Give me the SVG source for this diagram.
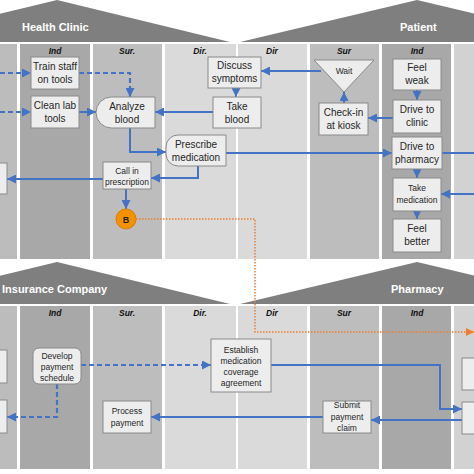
<svg xmlns="http://www.w3.org/2000/svg" width="474" height="474" viewBox="0 0 474 474">
<style>
.roof{fill:#7f7f7f}
.rt{font-family:"Liberation Sans",Arial,sans-serif;font-weight:bold;font-size:11px;fill:#fff}
.ind{fill:#a8a8a8}.sur{fill:#bdbdbd}.dir{fill:#dadada}.lft{fill:#bcbcbc}.rgt{fill:#d2d2d2}
.ch{font-family:"Liberation Sans",Arial,sans-serif;font-weight:bold;font-style:italic;font-size:8.5px;fill:#111;text-anchor:middle}
.box{fill:#ededed;stroke:#8a8a8a;stroke-width:1}
.t{font-family:"Liberation Sans",Arial,sans-serif;font-size:10px;fill:#262626;text-anchor:middle}
.s{font-family:"Liberation Sans",Arial,sans-serif;font-size:8.5px;fill:#262626;text-anchor:middle}
.c{fill:none;stroke:#4472c4;stroke-width:2}
.d{fill:none;stroke:#4472c4;stroke-width:2.2;stroke-dasharray:5,3}
.o{fill:none;stroke:#ed7d31;stroke-width:1.5;stroke-dasharray:1.5,1.5}
</style>
<defs>
<marker id="a" markerUnits="userSpaceOnUse" markerWidth="9" markerHeight="9" refX="9" refY="4.5" orient="auto"><path d="M0,0 L9,4.5 L0,9 z" fill="#4472c4"/></marker>
<marker id="ao" markerUnits="userSpaceOnUse" markerWidth="8" markerHeight="8" refX="8" refY="4" orient="auto"><path d="M0,0 L8,4 L0,8 z" fill="#ed7d31"/></marker>
</defs>
<rect width="474" height="474" fill="#fff"/>
<g id="lanes">
<polygon class="roof" points="-116,42 57,0 230,42"/>
<polygon class="roof" points="240,42 417,0 594,42"/>
<text class="rt" x="22" y="31">Health Clinic</text>
<text class="rt" x="400" y="31">Patient</text>
<rect class="lft" x="0" y="44" width="17" height="215"/>
<rect class="ind" x="20" y="44" width="70" height="215"/>
<rect class="sur" x="93" y="44" width="69" height="215"/>
<rect class="dir" x="165" y="44" width="71" height="215"/>
<rect class="dir" x="238" y="44" width="69" height="215"/>
<rect class="sur" x="310" y="44" width="69" height="215"/>
<rect class="ind" x="382" y="44" width="69" height="215"/>
<rect class="rgt" x="454" y="44" width="20" height="215"/>
<text class="ch" x="55" y="54">Ind</text>
<text class="ch" x="127" y="54">Sur.</text>
<text class="ch" x="200" y="54">Dir.</text>
<text class="ch" x="272" y="54">Dir</text>
<text class="ch" x="344" y="54">Sur</text>
<text class="ch" x="417" y="54">Ind</text>
<polygon class="roof" points="-116,304 57,262 230,304"/>
<polygon class="roof" points="240,304 417,262 594,304"/>
<text class="rt" x="2" y="293">Insurance Company</text>
<text class="rt" x="391" y="293">Pharmacy</text>
<rect class="lft" x="0" y="306" width="17" height="163"/>
<rect class="ind" x="20" y="306" width="70" height="163"/>
<rect class="sur" x="93" y="306" width="69" height="163"/>
<rect class="dir" x="165" y="306" width="71" height="163"/>
<rect class="dir" x="238" y="306" width="69" height="163"/>
<rect class="sur" x="310" y="306" width="69" height="163"/>
<rect class="ind" x="382" y="306" width="69" height="163"/>
<rect class="rgt" x="454" y="306" width="20" height="163"/>
<text class="ch" x="55" y="316">Ind</text>
<text class="ch" x="127" y="316">Sur.</text>
<text class="ch" x="200" y="316">Dir.</text>
<text class="ch" x="272" y="316">Dir</text>
<text class="ch" x="344" y="316">Sur</text>
<text class="ch" x="417" y="316">Ind</text>
</g>
<g id="connectors">
<path class="d" d="M0,73 H31" marker-end="url(#a)"/>
<path class="d" d="M79,73 H130 V97" marker-end="url(#a)"/>
<path class="d" d="M0,112 H31" marker-end="url(#a)"/>
<path class="c" d="M79,112 H96" marker-end="url(#a)"/>
<path class="c" d="M213,112 H155" marker-end="url(#a)"/>
<path class="c" d="M236,88 V97" marker-end="url(#a)"/>
<path class="c" d="M321,71 H261" marker-end="url(#a)"/>
<path class="c" d="M344,103 V92" marker-end="url(#a)"/>
<path class="c" d="M393,118 H368" marker-end="url(#a)"/>
<path class="c" d="M417,90 V100" marker-end="url(#a)"/>
<path class="c" d="M130,128 V152 H166" marker-end="url(#a)"/>
<path class="c" d="M226,153 H392" marker-end="url(#a)"/>
<path class="c" d="M442,153 H474"/>
<path class="c" d="M417,169 V178" marker-end="url(#a)"/>
<path class="c" d="M474,194 H441" marker-end="url(#a)"/>
<path class="c" d="M417,211 V219" marker-end="url(#a)"/>
<path class="c" d="M198,166 V178 H151" marker-end="url(#a)"/>
<path class="c" d="M103,179 H7" marker-end="url(#a)"/>
<path class="c" d="M126,189 V209" marker-end="url(#a)"/>
<path class="o" d="M136,219 H255 V332 H474" marker-end="url(#ao)"/>
<path class="d" d="M81,365 H211" marker-end="url(#a)"/>
<path class="d" d="M57,384 V417 H7" marker-end="url(#a)"/>
<path class="c" d="M271,365 H440 V409 H462" marker-end="url(#a)"/>
<path class="c" d="M462,420 H371" marker-end="url(#a)"/>
<path class="c" d="M323,417 H151" marker-end="url(#a)"/>
</g>
<g id="n-left1"><rect class="box" x="-40" y="163" width="47" height="31"/></g>
<g id="n-train"><rect class="box" x="31" y="57" width="48" height="32"/><text class="t" x="55" y="70">Train staff</text><text class="t" x="55" y="83">on tools</text></g>
<g id="n-clean"><rect class="box" x="31" y="96" width="48" height="32"/><text class="t" x="55" y="109">Clean lab</text><text class="t" x="55" y="122">tools</text></g>
<g id="n-analyze"><path class="box" d="M111.5,97 H155 V128 H111.5 A15.5,15.5 0 0 1 111.5,97 Z"/><text class="t" x="127" y="110">Analyze</text><text class="t" x="127" y="123">blood</text></g>
<g id="n-discuss"><rect class="box" x="208" y="57" width="53" height="31"/><text class="t" x="234.5" y="69">Discuss</text><text class="t" x="234.5" y="82">symptoms</text></g>
<g id="n-take"><rect class="box" x="213" y="97" width="48" height="31"/><text class="t" x="237" y="110">Take</text><text class="t" x="237" y="123">blood</text></g>
<g id="n-prescribe"><path class="box" d="M178,135 H226 V166 H178 A12,12 0 0 1 166,154 V147 A12,12 0 0 1 178,135 Z"/><text class="t" x="196" y="148">Prescribe</text><text class="t" x="196" y="161">medication</text></g>
<g id="n-call"><rect class="box" x="103" y="162" width="48" height="27"/><text class="s" x="127" y="174">Call in</text><text class="s" x="127" y="185">prescription</text></g>
<g id="n-b"><circle cx="126" cy="219" r="10" fill="#f39200" stroke="#e07b00" stroke-width="1"/><text x="126" y="222.5" font-family="Liberation Sans,Arial,sans-serif" font-size="9" font-weight="bold" fill="#222" text-anchor="middle">B</text></g>
<g id="n-wait"><polygon points="314,60 374,60 344,92" fill="#ededed" stroke="#8a8a8a"/><text class="s" x="344" y="74">Wait</text></g>
<g id="n-checkin"><rect class="box" x="319" y="103" width="49" height="32"/><text class="t" x="343.5" y="116">Check-in</text><text class="t" x="343.5" y="129">at kiosk</text></g>
<g id="n-weak"><rect class="box" x="393" y="59" width="48" height="31"/><text class="t" x="417" y="71">Feel</text><text class="t" x="417" y="84">weak</text></g>
<g id="n-clinic"><rect class="box" x="393" y="100" width="48" height="33"/><text class="t" x="417" y="113">Drive to</text><text class="t" x="417" y="126">clinic</text></g>
<g id="n-pharm"><rect class="box" x="392" y="137" width="50" height="32"/><text class="t" x="417" y="150">Drive to</text><text class="t" x="417" y="163">pharmacy</text></g>
<g id="n-takemed"><rect class="box" x="393" y="178" width="48" height="33"/><text class="s" x="417" y="191">Take</text><text class="s" x="417" y="203">medication</text></g>
<g id="n-better"><rect class="box" x="393" y="219" width="48" height="33"/><text class="t" x="417" y="232">Feel</text><text class="t" x="417" y="245">better</text></g>
<g id="n-left2"><rect class="box" x="-40" y="350" width="47" height="33"/></g>
<g id="n-left3"><rect class="box" x="-40" y="400" width="47" height="33"/></g>
<g id="n-develop"><rect class="box" x="33" y="348" width="48" height="36" rx="6"/><text class="s" x="57" y="359">Develop</text><text class="s" x="57" y="370">payment</text><text class="s" x="57" y="381">schedule</text></g>
<g id="n-establish"><rect class="box" x="211" y="339" width="60" height="53"/><text class="s" x="241" y="353">Establish</text><text class="s" x="241" y="364">medication</text><text class="s" x="241" y="375">coverage</text><text class="s" x="241" y="386">agreement</text></g>
<g id="n-process"><rect class="box" x="103" y="401" width="48" height="32"/><text class="s" x="127" y="414">Process</text><text class="s" x="127" y="426">payment</text></g>
<g id="n-submit"><rect class="box" x="323" y="401" width="48" height="32"/><text class="s" x="347" y="408">Submit</text><text class="s" x="347" y="420">payment</text><text class="s" x="347" y="431">claim</text></g>
<g id="n-right1"><rect class="box" x="462" y="358" width="40" height="32"/></g>
<g id="n-right2"><rect class="box" x="462" y="402" width="40" height="32"/></g>
</svg>
